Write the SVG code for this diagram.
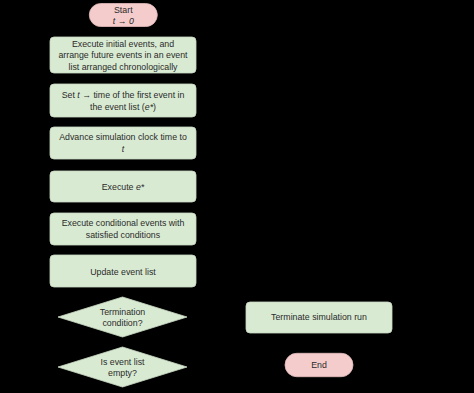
<svg xmlns="http://www.w3.org/2000/svg" width="474" height="393" viewBox="0 0 474 393">
<style>
.p{fill:#d9ead3;stroke:#c8d8c2;stroke-width:0.8}
.r{fill:#f4cccc;stroke:#e2baba;stroke-width:0.8}
text{font-family:"Liberation Sans",Arial,sans-serif;font-size:8.8px;fill:#2a2a2a;text-anchor:middle}
.i{font-style:italic}
.c{stroke:#000;stroke-width:1;fill:none;marker-end:url(#a)}
</style>
<defs><marker id="a" markerWidth="6" markerHeight="6" refX="5" refY="3" orient="auto"><path d="M0,0L6,3L0,6z" fill="#000"/></marker></defs>
<rect width="474" height="393" fill="#000"/>
<g id="connectors">
<path class="c" d="M123,26.5V37"/>
<path class="c" d="M123,73V84"/>
<path class="c" d="M123,117V127"/>
<path class="c" d="M123,159V171"/>
<path class="c" d="M123,202V213"/>
<path class="c" d="M123,245V255"/>
<path class="c" d="M123,287V297"/>
<path class="c" d="M123,337V347"/>
<path class="c" d="M187,317H246"/>
<path class="c" d="M187,367H285"/>
</g>
<g id="start"><rect class="r" x="89.3" y="3.5" width="68" height="23" rx="11.5"/><text x="123.3" y="12.5">Start</text><text class="i" x="123.3" y="23.5">t → 0</text></g>
<g id="init"><rect class="p" x="50" y="37" width="146" height="36" rx="4"/><text x="123" y="46.5">Execute initial events, and</text><text x="123" y="58">arrange future events in an event</text><text x="123" y="69.5">list arranged chronologically</text></g>
<g id="set"><rect class="p" x="50" y="84" width="146" height="33" rx="4"/><text x="123" y="98">Set <tspan class="i">t</tspan> → time of the first event in</text><text x="123" y="110">the event list (<tspan class="i">e*</tspan>)</text></g>
<g id="advance"><rect class="p" x="50" y="127" width="146" height="32" rx="4"/><text x="123" y="140.3">Advance simulation clock time to</text><text class="i" x="123" y="152">t</text></g>
<g id="execute"><rect class="p" x="50" y="171" width="146" height="31" rx="4"/><text x="123" y="189.7">Execute <tspan class="i">e*</tspan></text></g>
<g id="conditional"><rect class="p" x="50" y="213" width="146" height="32" rx="4"/><text x="123" y="226.3">Execute conditional events with</text><text x="123" y="238">satisfied conditions</text></g>
<g id="update"><rect class="p" x="50" y="255" width="146" height="32" rx="4"/><text x="123" y="274.7">Update event list</text></g>
<g id="termination"><path class="p" d="M122.5,297L187,317L122.5,337L58,317Z"/><text x="122.5" y="315.3">Termination</text><text x="122.5" y="325.7">condition?</text></g>
<g id="empty"><path class="p" d="M122.5,347L187,367L122.5,387L58,367Z"/><text x="122.5" y="364.7">Is event list</text><text x="122.5" y="375.5">empty?</text></g>
<g id="terminate"><rect class="p" x="246" y="302" width="146" height="31" rx="4"/><text x="319" y="320.3">Terminate simulation run</text></g>
<g id="end"><rect class="r" x="285" y="353.3" width="68" height="23.4" rx="11.7"/><text x="319" y="368">End</text></g>
</svg>
